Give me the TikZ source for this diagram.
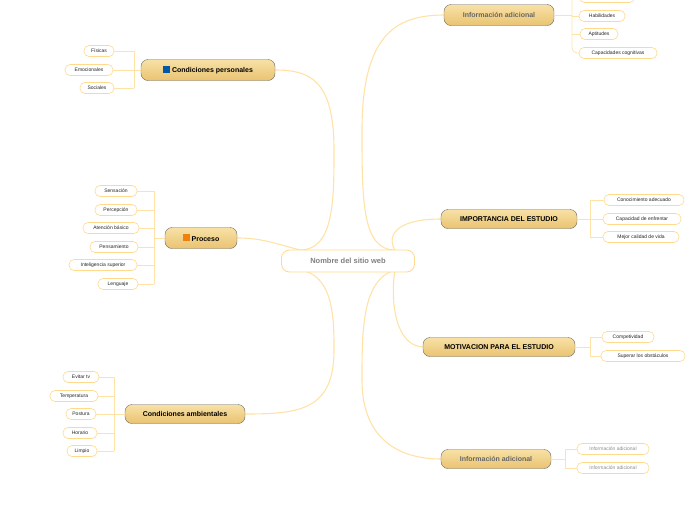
\documentclass[tikz,border=0pt]{standalone}
\usepackage{fontspec}
\setmainfont{Liberation Sans}
\begin{document}
\begin{tikzpicture}[x=1pt,y=-1pt,
 conn/.style={draw=lineor,line width=1.1pt},
 br/.style={draw=lineor,line width=0.7pt},
 mainn/.style={draw=black!60,rounded corners=7pt,top color=topor,bottom color=botor,minimum height=21pt,font=\fontsize{7}{8}\selectfont\bfseries,inner sep=3pt},
 leaf/.style={draw=leafor,line width=0.6pt,fill=white,rounded corners=5pt,minimum height=11pt,font=\fontsize{5}{6}\selectfont,inner sep=2pt,text=black!85},
 ]
\definecolor{lineor}{HTML}{FFE2A6}
\definecolor{leafor}{HTML}{FFD98C}
\definecolor{topor}{HTML}{F8E1A6}
\definecolor{botor}{HTML}{E9C371}
\useasboundingbox (0,0) rectangle (696,520);
% connectors center
\coordinate (cr) at (362,252);
\coordinate (cl) at (334,252);
\draw[conn] (300,250) .. controls (334,250) and (334,200) .. (334,150) .. controls (334,80) and (310,70) .. (275,70);
\draw[conn] (300,250) .. controls (270,242) and (260,238) .. (237,238);
\draw[conn] (300,270) .. controls (334,275) and (334,320) .. (334,350) .. controls (334,410) and (300,414) .. (245,414);
\draw[conn] (395,250) .. controls (362,250) and (362,200) .. (362,130) .. controls (362,30) and (400,15) .. (445,15);
\draw[conn] (395,250) .. controls (388,240) and (390,219) .. (441,219);
\draw[conn] (395,270) .. controls (390,300) and (395,347) .. (424,347);
\draw[conn] (395,270) .. controls (362,280) and (362,330) .. (362,380) .. controls (362,440) and (400,459) .. (441,459);

\node[draw=leafor,line width=0.8pt,fill=white,rounded corners=8pt,minimum width=133pt,minimum height=22pt,font=\fontsize{7.5}{9}\selectfont\bfseries,text=black!50] (c) at (348,261) {Nombre del sitio web};

\node[mainn,minimum width=110pt,text=black!60] (ia1) at (499,15) {Información adicional};
\node[mainn,minimum width=134pt] (cp) at (208,70) {\textcolor{teal!70!blue}{\rule{7pt}{7pt}}\ Condiciones personales};
\node[mainn,minimum width=72pt] (pr) at (201,238) {\textcolor{orange!80!brown}{\rule{7pt}{7pt}}\ Proceso};
\node[mainn,minimum width=120pt,minimum height=19pt] (ca) at (185,414) {Condiciones ambientales};
\node[mainn,minimum width=136pt,minimum height=19pt] (imp) at (509,219) {IMPORTANCIA DEL ESTUDIO};
\node[mainn,minimum width=152pt,minimum height=19pt] (mot) at (499,347) {MOTIVACION PARA EL ESTUDIO};
\node[mainn,minimum width=110pt,minimum height=19pt,text=black!60] (ia2) at (496,459) {Información adicional};

% top right leaves
\draw[br] (ia1.east) -- (572,15);
\draw[br] (572,-2) -- (572,48) arc[start angle=180,end angle=90,radius=5] (577,53) -- (580,53);
\draw[br] (572,16) -- (580,16) (572,34) -- (580,34);
\node[leaf,minimum width=55pt] (t0) at (607,-3) {};
\node[leaf,minimum width=46pt] (hab) at (602,16) {Habilidades};
\node[leaf,minimum width=38pt] (apt) at (599,34) {Aptitudes};
\node[leaf,minimum width=78pt] (cap) at (618,53) {Capacidades cognitivas};

% cond personales
\draw[br] (cp.west) -- (134,70) (134,51) -- (134,88);
\node[leaf,minimum width=30pt] (f) at (99,51) {Físicas};
\node[leaf,minimum width=48pt] (e) at (89,70) {Emocionales};
\node[leaf,minimum width=34pt] (s) at (97,88) {Sociales};
\foreach \n in {f,e,s} \draw[br] (\n.east) -- (\n.east -| 134,0);

% proceso
\draw[br] (pr.west) -- (154,238) (154,191) -- (154,284);
\node[leaf,minimum width=42pt] (p1) at (116,191) {Sensación};
\node[leaf,minimum width=42pt] (p2) at (116,210) {Percepción};
\node[leaf,minimum width=56pt] (p3) at (111,228) {Atención básico};
\node[leaf,minimum width=48pt] (p4) at (114,247) {Pensamiento};
\node[leaf,minimum width=68pt] (p5) at (103,265) {Inteligencia superior};
\node[leaf,minimum width=40pt] (p6) at (118,284) {Lenguaje};
\foreach \n in {p1,p2,p3,p4,p5,p6} \draw[br] (\n.east) -- (\n.east -| 154,0);

% ambientales
\draw[br] (ca.west) -- (114,414) (114,377) -- (114,451);
\node[leaf,minimum width=36pt] (a1) at (81,377) {Evitar tv};
\node[leaf,minimum width=48pt] (a2) at (74,396) {Temperatura};
\node[leaf,minimum width=30pt] (a3) at (81,414) {Postura};
\node[leaf,minimum width=34pt] (a4) at (80,433) {Horario};
\node[leaf,minimum width=30pt] (a5) at (82,451) {Limpio};
\foreach \n in {a1,a2,a3,a4,a5} \draw[br] (\n.east) -- (\n.east -| 114,0);

% importancia
\draw[br] (imp.east) -- (590,219) (590,200) -- (590,237);
\node[leaf,minimum width=80pt] (i1) at (644,200) {Conocimiento adecuado};
\node[leaf,minimum width=78pt] (i2) at (642,219) {Capacidad de enfrentar};
\node[leaf,minimum width=76pt] (i3) at (641,237) {Mejor calidad de vida};
\foreach \n in {i1,i2,i3} \draw[br] (\n.west) -- (\n.west -| 590,0);

% motivacion
\draw[br] (mot.east) -- (590,347) (590,337) -- (590,356);
\node[leaf,minimum width=52pt] (m1) at (628,337) {Competividad};
\node[leaf,minimum width=84pt] (m2) at (643,356) {Superar los obstáculos};
\foreach \n in {m1,m2} \draw[br] (\n.west) -- (\n.west -| 590,0);

% info bottom
\draw[br] (ia2.east) -- (565,459) (565,449) -- (565,468);
\node[leaf,minimum width=72pt,text=black!45] (b1) at (613,449) {Información adicional};
\node[leaf,minimum width=72pt,text=black!45] (b2) at (613,468) {Información adicional};
\foreach \n in {b1,b2} \draw[br] (\n.west) -- (\n.west -| 565,0);
\end{tikzpicture}
\end{document}
